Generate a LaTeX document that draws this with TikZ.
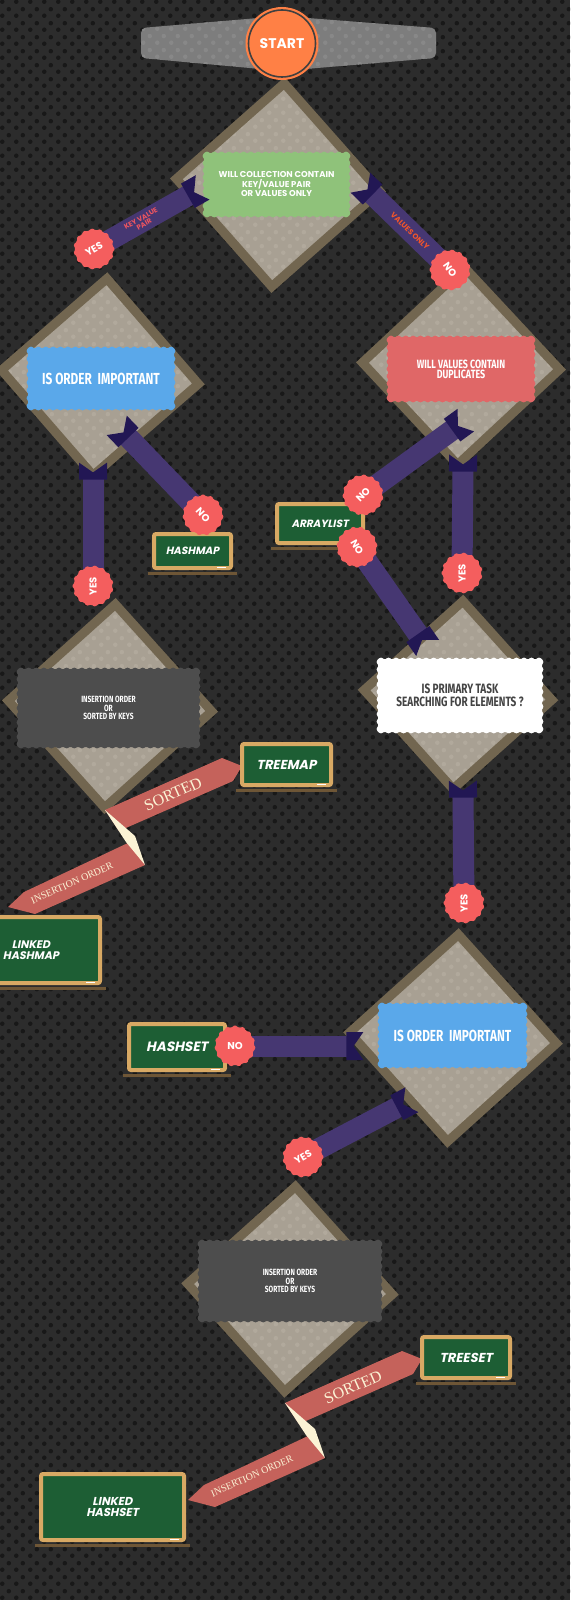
\documentclass[tikz,border=0pt]{standalone}
\usepackage{fontspec}
\usetikzlibrary{shapes.geometric,shapes.symbols,patterns}
\newfontfamily\popfont{Poppins}
\newfontfamily\condfont[FakeStretch=0.74]{Fira Sans}
\newfontfamily\serffont{Liberation Serif}
\newfontfamily\boardfont[FakeSlant=0.2]{Poppins}
\definecolor{bgc}{HTML}{2C2C2C}
\definecolor{dotc}{HTML}{181818}
\definecolor{bannerc}{HTML}{7D7D7D}
\definecolor{bannerdot}{HTML}{888888}
\definecolor{startc}{HTML}{FF8045}
\definecolor{diaborder}{HTML}{726650}
\definecolor{diafill}{HTML}{A8A093}
\definecolor{diadot}{HTML}{B1A99C}
\definecolor{ribc}{HTML}{463772}
\definecolor{tailc}{HTML}{221754}
\definecolor{badgec}{HTML}{F45E5E}
\definecolor{greenc}{HTML}{8FC27A}
\definecolor{bluec}{HTML}{5AA8EA}
\definecolor{redc}{HTML}{E06767}
\definecolor{greyc}{HTML}{4D4D4D}
\definecolor{boardc}{HTML}{1D5E34}
\definecolor{framec}{HTML}{D8A964}
\definecolor{shelfc}{HTML}{6E5636}
\definecolor{forkc}{HTML}{C5625B}
\definecolor{creamc}{HTML}{FBF3D5}
\definecolor{keyc}{HTML}{EE5560}
\definecolor{valc}{HTML}{F2552B}
\definecolor{qtext}{HTML}{444444}
\pgfdeclarepatternformonly{bgdots}{\pgfqpoint{0pt}{0pt}}{\pgfqpoint{14pt}{14pt}}{\pgfqpoint{14pt}{14pt}}{%
 \pgfpathcircle{\pgfqpoint{3.5pt}{3.5pt}}{2.4pt}%
 \pgfpathcircle{\pgfqpoint{10.5pt}{10.5pt}}{2.4pt}%
 \pgfusepath{fill}}
\newcommand\chalkboard[7]{%
 \begin{scope}[shift={(#2,#3)}]
 \draw[shelfc, line width=3pt] (-#4/2-4, #5/2+3) -- (#4/2+4, #5/2+3);
 \node[board, minimum width=#4pt-4pt, minimum height=#5pt-4pt, font=\boardfont\bfseries\fontsize{#6}{#6}\selectfont] (#1) at (0,0) {#7};
 \draw[white, line width=1.5pt] (#4/2-16, #5/2-2.5) -- (#4/2-7, #5/2-2.5);
 \end{scope}}
% scalloped question box: name, cx, cy, w, h, fill colour, text colour+font, text
\newcommand\qbox[8]{%
 \begin{scope}[shift={(#2,#3)}]
 \fill[#6, rounded corners=5pt] (-#4/2+1,-#5/2+1) rectangle (#4/2-1,#5/2-1);
 \pgfmathtruncatemacro\qnx{round((#4-8)/7.5)}%
 \pgfmathtruncatemacro\qny{round((#5-8)/7.5)}%
 \pgfmathsetmacro\qdx{(#4-8)/\qnx}%
 \pgfmathsetmacro\qdy{(#5-8)/\qny}%
 \pgfmathsetmacro\qxa{-#4/2+4}%
 \pgfmathsetmacro\qya{-#5/2+4}%
 \pgfmathsetmacro\qxe{#4/2-3}%
 \pgfmathsetmacro\qye{#5/2-3}%
 \foreach \qi in {0,...,\qnx}{
   \fill[#6] ({\qxa+\qi*\qdx}, {-\qye}) circle[radius=3.4];
   \fill[#6] ({\qxa+\qi*\qdx}, {\qye}) circle[radius=3.4];}
 \foreach \qi in {0,...,\qny}{
   \fill[#6] ({-\qxe}, {\qya+\qi*\qdy}) circle[radius=3.4];
   \fill[#6] ({\qxe}, {\qya+\qi*\qdy}) circle[radius=3.4];}
 \node[align=center, inner sep=0, #7] (#1) at (0,0) {#8};
 \end{scope}}
\begin{document}
\begin{tikzpicture}[x=1pt,y=-1pt,
 dia/.style={fill=diafill, postaction={pattern=bgdots, pattern color=diadot}, postaction={draw=diaborder, line width=9pt}, inner sep=0},
 ribbon/.style={draw=ribc, line width=21pt},
 tail/.style={signal, signal to=nowhere, signal from=east, signal pointer angle=110, fill=tailc, minimum width=17pt, minimum height=28pt, inner sep=0, sloped, allow upside down, pos=1},
 badge/.style={star, star points=15, star point ratio=1.13, fill=badgec, minimum size=42pt, inner sep=0, rounded corners=1.2pt, text=white, font=\popfont\bfseries\fontsize{10}{10}\selectfont},
 board/.style={fill=boardc, draw=framec, line width=4pt, rounded corners=2pt, text=white, align=center, inner sep=0},
 rlabel/.style={midway, sloped, align=center, font=\popfont\bfseries\fontsize{7}{6.5}\selectfont},
 forktext/.style={text=creamc, rotate=24, inner sep=0},
 fork/.pic={
  \fill[forkc] (130,842) -- (145,865) -- (35,914) -- (8,907) -- (24,892) -- cycle;
  \fill[forkc] (105,810) -- (222,758) -- (242,766) -- (233,781) -- (119,831) -- cycle;
  \fill[creamc] (105,810) -- (135,836) -- (145,865) -- (126,842) -- cycle;
  \node[forktext, font=\serffont\fontsize{16}{16}\selectfont] (-sorted) at (173,794) {SORTED};
  \node[forktext, font=\serffont\fontsize{10}{10}\selectfont] (-insertion) at (72,883) {INSERTION ORDER};
 }]
\useasboundingbox (0,0) rectangle (570,1600);
\clip (0,0) rectangle (570,1600);
% background
\fill[bgc] (0,0) rectangle (570,1600);
\fill[pattern=bgdots, pattern color=dotc] (0,0) rectangle (570,1600);
% banner and start
\fill[bannerc, rounded corners=5pt, postaction={pattern=bgdots, pattern color=bannerdot}] (141,28) -- (282,16) -- (436,28) -- (436,58) -- (282,71) -- (141,58) -- cycle;
% diamonds
\node[dia, minimum size=144pt, rotate=41.5] (d1) at (278,185) {};
\node[dia, minimum size=139.5pt, rotate=41] (d2) at (100,377) {};
\node[dia, minimum size=139.5pt, rotate=43] (d3) at (461,366) {};
\node[dia, minimum size=133pt, rotate=42] (d4) at (458,695) {};
\node[dia, minimum size=144pt, rotate=42] (d5) at (110,706) {};
\node[dia, minimum size=146.5pt, rotate=42] (d6) at (453,1038) {};
\node[dia, minimum size=145pt, rotate=42] (d7) at (290,1289) {};
\node[circle, fill=startc, minimum size=73pt, inner sep=0, text=white, font=\popfont\bfseries\fontsize{14}{14}\selectfont] (start) at (282,43.5) {START};
\draw[black!75, line width=1.6pt] (start.center) circle[radius=33.5];
% question clouds
\qbox{q1}{276.5}{184.5}{147}{65}{greenc}{text=white, font=\popfont\bfseries\fontsize{8.5}{9.5}\selectfont}{WILL COLLECTION CONTAIN\\KEY/VALUE PAIR\\OR VALUES ONLY}
\qbox{q2}{101}{378.5}{148}{63}{bluec}{text=white, font=\condfont\bfseries\fontsize{16}{16}\selectfont}{IS ORDER\ \ IMPORTANT}
\qbox{q3}{461}{369}{148}{66}{redc}{text=white, font=\condfont\bfseries\fontsize{12}{10}\selectfont}{WILL VALUES CONTAIN\\DUPLICATES}
\qbox{q4}{460}{695.5}{166}{75}{white}{text=qtext, font=\condfont\bfseries\fontsize{13.5}{13}\selectfont}{IS PRIMARY TASK\\SEARCHING FOR ELEMENTS ?}
\qbox{q5}{108.5}{708}{183}{80}{greyc}{text=white, font=\condfont\bfseries\fontsize{9}{8.5}\selectfont}{INSERTION ORDER\\OR\\SORTED BY KEYS}
\qbox{q6}{452.5}{1035.5}{149}{65}{bluec}{text=white, font=\condfont\bfseries\fontsize{16}{16}\selectfont}{IS ORDER\ \ IMPORTANT}
\qbox{q7}{290}{1281}{184}{82}{greyc}{text=white, font=\condfont\bfseries\fontsize{9}{8.5}\selectfont}{INSERTION ORDER\\OR\\SORTED BY KEYS}
% sorted / insertion order forks
\pic (f1) at (0,0) {fork};
\pic (f2) at (180,593) {fork};
% boards
\chalkboard{hashmap}{192.5}{551}{81}{38}{10.5}{HASHMAP}
\chalkboard{arraylist}{320}{523.5}{90}{43}{10.5}{ARRAYLIST}
\chalkboard{treemap}{286.5}{764.5}{93}{45}{13}{TREEMAP}
\chalkboard{lhashmap}{31}{950}{142}{70}{11}{LINKED\\HASHMAP}
\chalkboard{hashset}{177}{1047}{100}{50}{13.5}{HASHSET}
\chalkboard{treeset}{466}{1357.5}{92}{45}{13}{TREESET}
\chalkboard{lhashset}{112.5}{1507}{147}{70}{11.5}{LINKED\\HASHSET}
% ribbon coordinates
\coordinate (b1) at (94,249);   \coordinate (e1) at (191,194);
\coordinate (b2) at (450,270);  \coordinate (e2) at (370,192);
\coordinate (b3) at (93,586);   \coordinate (e3) at (93,476);
\coordinate (b4) at (203,515);  \coordinate (e4) at (126,435);
\coordinate (b5) at (363,495);  \coordinate (e5) at (455,428);
\coordinate (b6) at (357,547);  \coordinate (e7) at (420,637);
\coordinate (b7) at (462,573);  \coordinate (e6) at (463,468);
\coordinate (b8) at (464,903);  \coordinate (e8) at (463,794);
\coordinate (b9) at (235,1046); \coordinate (e9) at (350,1046);
\coordinate (b10) at (303,1157);\coordinate (e10) at (400,1106);
% ribbons
\draw[ribbon] (b1) -- (e1) node[rlabel, text=keyc] {KEY VALUE\\PAIR} node[tail] {};
\draw[ribbon] (b2) -- (e2) node[rlabel, text=valc, font=\popfont\bfseries\fontsize{7.5}{7.5}\selectfont] {VALUES ONLY} node[tail] {};
\draw[ribbon] (b3) -- (e3) node[tail] {};
\draw[ribbon] (b4) -- (e4) node[tail] {};
\draw[ribbon] (b5) -- (e5) node[tail] {};
\draw[ribbon] (b7) -- (e6) node[tail] {};
\draw[ribbon] (b6) -- (e7) node[tail] {};
\draw[ribbon] (b8) -- (e8) node[tail] {};
\draw[ribbon] (b9) -- (e9) node[tail] {};
\draw[ribbon] (b10) -- (e10) node[tail] {};
% badges
\node[badge, rotate=30] (B1) at (b1) {YES};
\node[badge, rotate=-55] (B2) at (b2) {NO};
\node[badge, rotate=90] (B3) at (b3) {YES};
\node[badge, rotate=-48] (B4) at (b4) {NO};
\node[badge, rotate=45] (B5) at (b5) {NO};
\node[badge, rotate=-60] (B6) at (b6) {NO};
\node[badge, rotate=90] (B7) at (b7) {YES};
\node[badge, rotate=90] (B8) at (b8) {YES};
\node[badge] (B9) at (b9) {NO};
\node[badge, rotate=30] (B10) at (b10) {YES};
\end{tikzpicture}
\end{document}
